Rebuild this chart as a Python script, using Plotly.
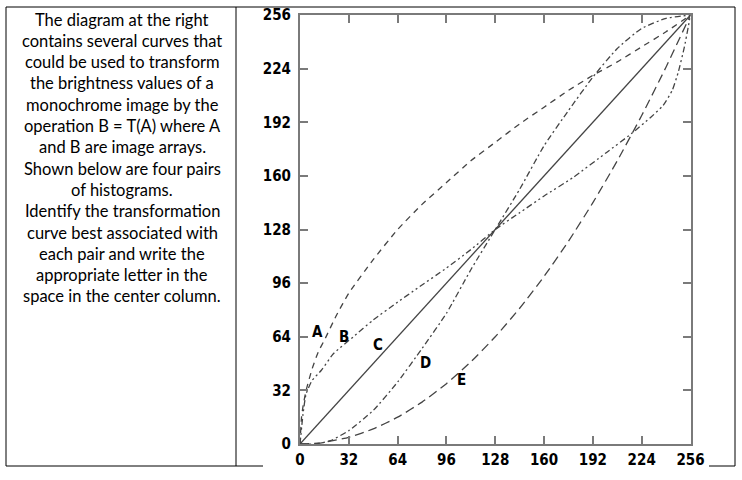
import plotly.graph_objects as go

W, H = 742, 480

# ---- data ----
x_a = [0, 1, 2, 4, 8, 12, 16, 24, 32, 48, 64, 80, 96, 112, 128, 144, 160, 176, 192, 208, 224, 240, 256]
y_a = [0, 16, 22.6, 32, 45, 55, 62, 77, 90, 110, 128, 143, 156, 169, 180, 191, 201, 211, 220, 228, 237, 246, 256]

x_b = [0, 2, 4, 8, 14, 22, 35, 48, 63, 77, 96, 112, 128, 144, 160, 179, 201, 217, 230, 238, 244, 248, 252, 256]
y_b = [0, 18, 30, 38, 44, 54, 64, 74, 84, 93, 105, 116, 128, 138, 148, 159, 174, 185, 195, 202, 211, 222, 237, 256]

x_c = [0, 256]
y_c = [0, 256]

x_d = [0, 10, 20, 32, 48, 64, 80, 96, 112, 128, 144, 160, 176, 192, 208, 224, 240, 256]
y_d = [0, 0, 2, 8, 20, 37, 57, 78, 104, 128, 152, 178, 199, 219, 236, 248, 254, 256]

x_e = [0, 12, 16, 32, 48, 64, 80, 96, 112, 128, 144, 160, 176, 192, 208, 224, 240, 256]
y_e = [0, 0.5, 1, 4, 9, 16, 25, 36, 49, 64, 81, 100, 121, 144, 169, 196, 225, 256]

tick_vals = [0, 32, 64, 96, 128, 160, 192, 224, 256]
tick_text = ["0", "32", "64", "96", "128", "160", "192", "224", "256"]

curve_letters = ["A", "B", "C", "D", "E"]

text_lines = [
    "The diagram at the right",
    "contains several curves that",
    "could be used to transform",
    "the brightness values of a",
    "monochrome image by the",
    "operation B = T(A) where A",
    "and B are image arrays.",
    "Shown below are four pairs",
    "of histograms.",
    "Identify the transformation",
    "curve best associated with",
    "each pair and write the",
    "appropriate letter in the",
    "space in the center column.",
]

# ---- styling / layout ----
LINE_COL = "#444444"
AX_COL = "#7a7a7a"
LABEL_FAMILY = "DejaVu Sans Condensed, DejaVu Sans"
TICK_FONT = dict(family=LABEL_FAMILY, size=15, color="black", weight="bold")

series = [
    (x_a, y_a, "6px,5px"),
    (x_b, y_b, "6px,3px,2px,3px,2px,3px"),
    (x_c, y_c, "solid"),
    (x_d, y_d, "6px,3px,2px,3px"),
    (x_e, y_e, "9px,5px"),
]

fig = go.Figure()
for (xs, ys, dash), name in zip(series, curve_letters):
    fig.add_trace(go.Scatter(
        x=xs, y=ys, mode="lines", name=name,
        line=dict(color=LINE_COL, width=1.3, dash=dash, shape="spline", smoothing=0.5),
        hoverinfo="skip", showlegend=False,
    ))

# plot area in pixels
PX0, PX1 = 300, 690.5
PY0, PY1 = 15, 444

def px(x):
    return x / W

def py(y):
    return 1 - y / H

axis_common = dict(
    range=[0, 256], tickmode="array", tickvals=tick_vals, ticktext=tick_text,
    showline=True, linecolor=AX_COL, linewidth=2, mirror="ticks",
    ticks="inside", ticklen=8, tickwidth=2, tickcolor=AX_COL,
    showgrid=False, zeroline=False, tickfont=TICK_FONT, fixedrange=True,
    automargin=False,
)

fig.update_layout(
    width=W, height=H, margin=dict(l=0, r=0, t=0, b=0, pad=0), autosize=False,
    paper_bgcolor="white", plot_bgcolor="white",
    xaxis=dict(domain=[px(PX0), px(PX1)], ticklabelstandoff=1, **axis_common),
    yaxis=dict(domain=[py(PY1), py(PY0)], ticklabelstandoff=4, **axis_common),
)

# curve letter labels (data coordinates)
label_pos = [(11.6, 67), (29, 64), (51, 59), (82, 48.5), (106, 38)]
for (lx, ly), t in zip(label_pos, curve_letters):
    fig.add_annotation(x=lx, y=ly, xref="x", yref="y", text=t, showarrow=False,
                       font=dict(family=LABEL_FAMILY, size=15, color="black", weight="bold"),
                       bgcolor="rgba(0,0,0,0)")

# left cell text
for i, t in enumerate(text_lines):
    yc = 19.5 + 21.3 * i
    fig.add_annotation(x=px(122), y=py(yc), xref="paper", yref="paper", text=t,
                       showarrow=False, xanchor="center", yanchor="middle",
                       font=dict(family="Lato", size=16.5, color="black"))

# table borders
L, T, R, B, MID = 6, 7, 735, 466, 236
segs = [
    (L, T, R, T),          # top
    (L, T, L, B),          # left
    (R, T, R, B),          # right
    (MID, T, MID, B),      # divider
    (L, B, 263, B),        # bottom (left part)
    (709, B, R, B),        # bottom (right part)
]
for x0, y0, x1, y1 in segs:
    fig.add_shape(type="line", xref="paper", yref="paper",
                  x0=px(x0), y0=py(y0), x1=px(x1), y1=py(y1),
                  line=dict(color="black", width=1))

fig.write_html("out.html")
